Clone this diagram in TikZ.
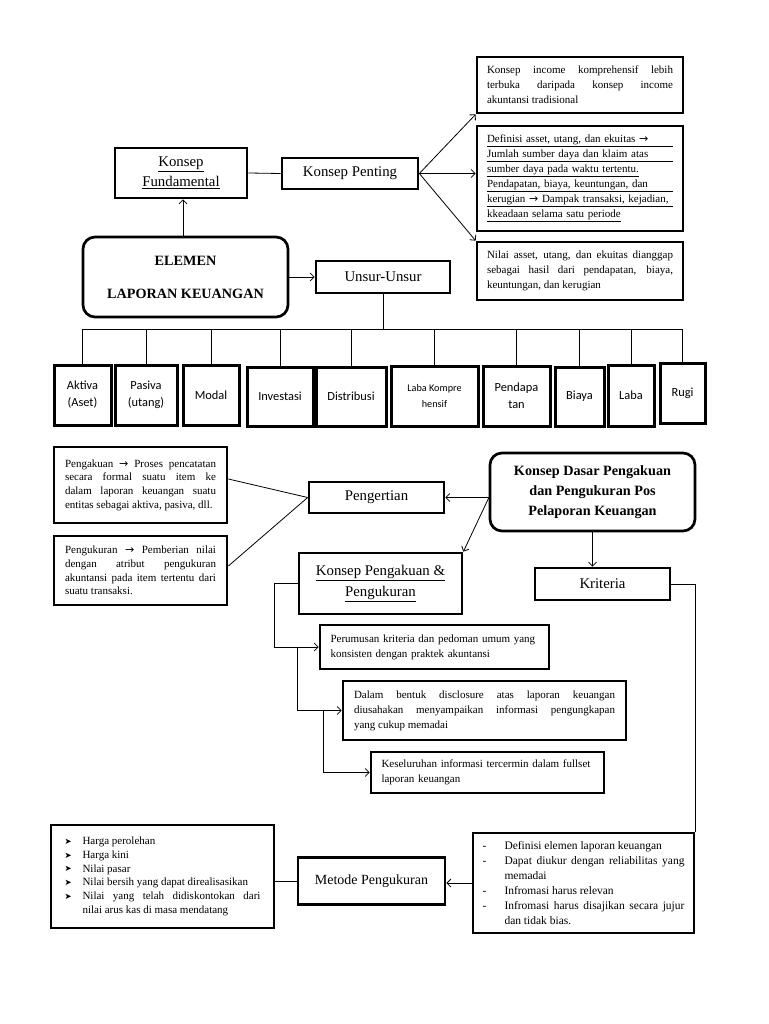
\documentclass[tikz,border=0pt]{standalone}
\usepackage{fontspec}
\setmainfont{Liberation Serif}
\newfontfamily\carl{Carlito}
\newfontfamily\dejavu{DejaVu Sans}
\usetikzlibrary{arrows.meta}
\newcommand\rarr{{\dejavu →}}
\newcommand\bul{\makebox[18pt][l]{\raisebox{0.5pt}{\dejavu\fontsize{8.5pt}{8pt}\selectfont ➤}}}
\newcommand\dsh{\makebox[22pt][l]{-}}
\begin{document}
\begin{tikzpicture}[x=1pt,y=-1pt,
  bx/.style={draw, line width=2.7pt, inner sep=0pt, align=center, font=\fontsize{14.8pt}{20pt}\selectfont},
  sm/.style={draw, line width=3pt, inner sep=0pt, align=center, font=\carl\fontsize{12.4pt}{17pt}\selectfont},
  para/.style={draw, line width=2.7pt, inner sep=0pt, align=justify, font=\fontsize{11pt}{15pt}\selectfont},
  conn/.style={line width=0.8pt},
  arr/.style={conn, -{Straight Barb[length=4pt,width=8pt]}},
]
\useasboundingbox (0,0) rectangle (768,1024);

% ---------- top part ----------
\node[para, minimum width=206pt, minimum height=56pt, text width=186pt] (b1) at (580,85)
  {Konsep income komprehensif lebih\linebreak terbuka daripada konsep income\linebreak akuntansi tradisional};
\node[para, align=left, minimum width=206pt, minimum height=105pt, text width=186pt] (b2) at (580,178.5)
  {\underline{\makebox[186pt][s]{Definisi asset, utang, dan ekuitas \rarr}}\\
   \underline{\makebox[186pt][s]{Jumlah sumber daya dan klaim atas}}\\
   \underline{sumber daya pada waktu tertentu.}\\
   \underline{\makebox[186pt][s]{Pendapatan, biaya, keuntungan, dan}}\\
   \underline{\makebox[186pt][s]{kerugian \rarr\ Dampak transaksi, kejadian,}}\\
   \underline{kkeadaan selama satu periode}};
\node[para, minimum width=206pt, minimum height=58pt, text width=186pt] (b3) at (580,271)
  {Nilai asset, utang, dan ekuitas dianggap\linebreak sebagai hasil dari pendapatan, biaya,\linebreak keuntungan, dan kerugian};

\node[bx, minimum width=132pt, minimum height=50pt] (kf) at (181,173)
  {\underline{Konsep}\\\underline{Fundamental}};
\node[bx, minimum width=136pt, minimum height=31pt] (kp) at (350,173.5) {Konsep Penting};
\node[bx, rounded corners=12pt, minimum width=205pt, minimum height=80pt,
  font=\bfseries\fontsize{14.2pt}{17pt}\selectfont] (el) at (185.5,277)
  {ELEMEN\\[16pt]LAPORAN KEUANGAN};
\node[bx, minimum width=134pt, minimum height=32pt] (uu) at (383,277) {Unsur-Unsur};

\draw[arr] (el.north -| 183,0) -- (kf.south -| 183,0);
\draw[conn] (kf.east) -- (kp.west);
\draw[arr] (kp.east) -- (b1.south west);
\draw[arr] (kp.east) -- (kp.east -| b2.west);
\draw[arr] (kp.east) -- (b3.north west);
\draw[arr] (el.east |- uu.west) -- (uu.west);

% ---------- elements ----------
\node[sm, minimum width=57pt, minimum height=60pt] (sA) at (82.5,395) {Aktiva\\(Aset)};
\node[sm, minimum width=62pt, minimum height=60pt] (sP) at (146,395) {Pasiva\\(utang)};
\node[sm, minimum width=56pt, minimum height=60pt] (sM) at (211,395) {Modal};
\node[sm, minimum width=66pt, minimum height=59pt] (sI) at (280,396.5) {Investasi};
\node[sm, minimum width=70pt, minimum height=59pt] (sD) at (351,396.5) {Distribusi};
\node[sm, minimum width=87pt, minimum height=60pt, font=\carl\fontsize{10.2pt}{16pt}\selectfont] (sK) at (434.5,396) {Laba Kompre\\hensif};
\node[sm, minimum width=67pt, minimum height=60pt] (sN) at (516.5,396) {Pendapa\\tan};
\node[sm, minimum width=49pt, minimum height=59pt] (sB) at (579.5,396.5) {Biaya};
\node[sm, minimum width=46pt, minimum height=61pt] (sL) at (631,395.5) {Laba};
\node[sm, minimum width=45pt, minimum height=60pt] (sR) at (682.5,393) {Rugi};

\coordinate (bus) at (0,329);
\draw[conn] (uu.south) -- (uu.south |- bus);
\draw[conn] (sA.north |- bus) -- (sR.north |- bus);
\foreach \n in {sA,sP,sM,sI,sD,sK,sN,sB,sL,sR}
  \draw[conn] (\n.north |- bus) -- (\n.north);

% ---------- middle part ----------
\node[para, minimum width=173pt, minimum height=76pt, text width=151pt,
  font=\fontsize{11pt}{13.7pt}\selectfont] (pa) at (140.5,485)
  {Pengakuan \rarr\ Proses pencatatan\linebreak secara formal suatu item ke\linebreak dalam laporan keuangan suatu\linebreak entitas sebagai aktiva, pasiva, dll.};
\node[para, minimum width=173pt, minimum height=69pt, text width=151pt,
  font=\fontsize{11pt}{13.7pt}\selectfont] (pu) at (140.5,570.5)
  {Pengukuran \rarr\ Pemberian nilai\linebreak dengan atribut pengukuran\linebreak akuntansi pada item tertentu dari\linebreak suatu transaksi.};
\node[bx, minimum width=135pt, minimum height=31pt] (pg) at (376.5,497.5) {Pengertian};
\node[bx, rounded corners=12pt, minimum width=205pt, minimum height=78pt,
  font=\bfseries\fontsize{14.2pt}{20pt}\selectfont] (kd) at (592.5,492)
  {Konsep Dasar Pengakuan\\dan Pengukuran Pos\\Pelaporan Keuangan};
\node[bx, minimum width=163pt, minimum height=61pt, font=\fontsize{14.8pt}{21pt}\selectfont] (kpp) at (380.5,583.5)
  {\underline{Konsep Pengakuan \&}\\\underline{Pengukuran}};
\node[bx, minimum width=135pt, minimum height=32pt] (kr) at (602.5,584) {Kriteria};

\draw[conn] (pg.west) -- ([yshift=6pt]pa.east);
\draw[conn] (pg.west) -- ([yshift=4.5pt]pu.east);
\draw[arr] (pg.east -| kd.west) -- (pg.east);
\draw[arr] ([yshift=-6pt]kd.west) -- (kpp.north east);
\draw[arr] (kd.south) -- (kd.south |- kr.north);

\node[para, align=left, minimum width=229pt, minimum height=44pt, text width=208pt] (pr) at (434.5,647)
  {Perumusan kriteria dan pedoman umum yang\\konsisten dengan praktek akuntansi};
\node[para, minimum width=283pt, minimum height=59pt, text width=261pt] (db) at (484.5,710.5)
  {Dalam bentuk disclosure atas laporan keuangan\linebreak diusahakan menyampaikan informasi pengungkapan\linebreak yang cukup memadai};
\node[para, align=left, minimum width=233pt, minimum height=41pt, text width=212pt] (ks) at (487.5,772.5)
  {Keseluruhan informasi tercermin dalam fullset\\laporan keuangan};

\draw[arr] (kpp.west) -- ++(-23,0) |- (pr.west);
\draw[arr] (kpp.west |- pr.west) |- (db.west);
\draw[arr] ([xshift=-18pt]db.west) |- (ks.west);

% ---------- bottom part ----------
\node[para, line width=1.8pt, inner xsep=13.5pt, minimum width=223pt, minimum height=103pt,
  text width=196pt, font=\fontsize{11pt}{13.7pt}\selectfont] (mt) at (162.5,876.5)
  {\hangindent=18pt\hangafter=1\bul Harga perolehan\par
   \hangindent=18pt\hangafter=1\bul Harga kini\par
   \hangindent=18pt\hangafter=1\bul Nilai pasar\par
   \hangindent=18pt\hangafter=1\bul Nilai bersih yang dapat direalisasikan\par
   \hangindent=18pt\hangafter=1\bul Nilai yang telah didiskontokan dari\linebreak nilai arus kas di masa mendatang\par};
\node[bx, minimum width=147pt, minimum height=47pt, font=\fontsize{14pt}{18pt}\selectfont] (mp) at (371.5,881) {Metode Pengukuran};
\node[para, line width=2.2pt, inner xsep=9.5pt, minimum width=221pt, minimum height=100pt,
  text width=202pt, font=\fontsize{11.5pt}{15pt}\selectfont] (kt) at (583.5,883)
  {\hangindent=22pt\hangafter=1\dsh Definisi elemen laporan keuangan\par
   \hangindent=22pt\hangafter=1\dsh Dapat diukur dengan reliabilitas yang\linebreak memadai\par
   \hangindent=22pt\hangafter=1\dsh Infromasi harus relevan\par
   \hangindent=22pt\hangafter=1\dsh Infromasi harus disajikan secara jujur\linebreak dan tidak bias.\par};

\draw[conn] (kr.east) -| (kt.north east);
\draw[arr] (kt.west) -- (kt.west -| mp.east);
\draw[conn] (mp.west -| mt.east) -- (mp.west);
\end{tikzpicture}
\end{document}
